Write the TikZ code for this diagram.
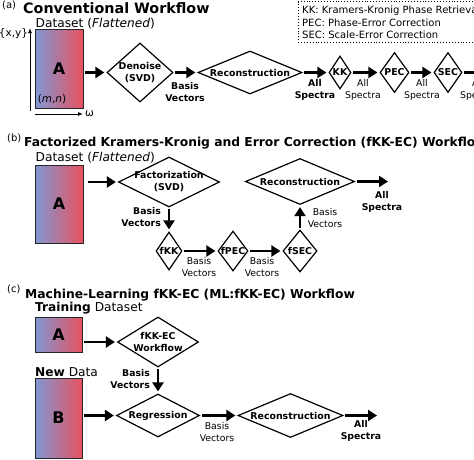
\documentclass[tikz,border=0pt]{standalone}
\usepackage{fontspec}
\setmainfont{DejaVu Sans}
\usepackage{tikz}
\usetikzlibrary{shapes.geometric}
\usetikzlibrary{arrows.meta}

\definecolor{dsblue}{RGB}{128,152,212}
\definecolor{dsred}{RGB}{232,82,94}

\tikzset{
  flow/.style={line width=2.6pt,-{Triangle[length=9pt,width=11pt]},shorten <=1.5pt,shorten >=2pt},
  axis/.style={line width=0.9pt,-{Latex[length=5pt,width=4pt]}},
  stepdia/.style={diamond,draw,line width=1.2pt,inner sep=0pt},
  steptext/.style={font=\bfseries\fontsize{9.4}{12}\selectfont,align=center,inner sep=0pt},
  databox/.style={draw=black!85,line width=0.9pt,left color=dsblue,right color=dsred,inner sep=0pt,font=\bfseries\fontsize{16}{18}\selectfont},
  lbl/.style={font=\fontsize{9.3}{12}\selectfont,align=center,inner sep=0pt},
  blbl/.style={lbl,font=\bfseries\fontsize{9.3}{12}\selectfont},
  ttl/.style={anchor=base west,inner sep=0pt,font=\bfseries\fontsize{12.3}{14}\selectfont},
  tag/.style={anchor=base west,inner sep=0pt,font=\fontsize{10}{11}\selectfont},
  dtxt/.style={anchor=base west,inner sep=0pt,font=\fontsize{12.2}{14}\selectfont},
  legtxt/.style={anchor=base west,inner sep=0pt,font=\fontsize{10}{12}\selectfont}
}

\begin{document}
\begin{tikzpicture}[x=1pt,y=-1pt]
\useasboundingbox (0,0) rectangle (474,459);
\clip (0,0) rectangle (474,459);

% (a) conventional workflow
\node[tag] (tagA) at (2,8) {(a)};
\node[ttl,font=\bfseries\fontsize{14.3}{16}\selectfont] (ttlA) at (23,13.5) {Conventional Workflow};
\node[dtxt] (dsetA) at (35.5,27.5) {Dataset (\textit{Flattened})};
\node[databox,minimum width=48pt,minimum height=79pt] (dsA) at (59,68.5) {A};
\node[lbl,font=\fontsize{10.5}{12}\selectfont] (mnA) at (52,99) {(\textit{m},\textit{n})};
\coordinate (yb) at (30,111);
\coordinate (yt) at (30,28);
\coordinate (xl) at (35,114);
\coordinate (xr) at (83,114);
\draw[axis] (yb) -- (yt);
\draw[axis] (xl) -- (xr);
\node[lbl,font=\fontsize{10.5}{12}\selectfont] (xyA) at (13.5,34) {\{x,y\}};
\node[lbl,anchor=west,font=\fontsize{10.5}{12}\selectfont] (omA) at (85,114) {ω};

\node[stepdia,minimum width=66pt,minimum height=59pt,label={[steptext]center:Denoise\\(SVD)}] (den) at (140,72.5) {};
\node[stepdia,minimum width=104pt,minimum height=43pt,label={[steptext]center:Reconstruction}] (recA) at (250,72.5) {};
\node[stepdia,minimum width=22pt,minimum height=33pt,label={[steptext]center:KK}] (kk) at (340,72.5) {};
\node[stepdia,minimum width=29pt,minimum height=40pt,label={[steptext]center:PEC}] (pec) at (394.5,72.5) {};
\node[stepdia,minimum width=28pt,minimum height=40pt,label={[steptext]center:SEC}] (sec) at (448,72.5) {};
\coordinate (outA) at (495,72.5);

\draw[flow] (dsA.east |- den.west) -- (den.west);
\draw[flow] (den.east) -- (recA.west);
\draw[flow] (recA.east) -- (kk.west);
\draw[flow] (kk.east) -- (pec.west);
\draw[flow] (pec.east) -- (sec.west);
\draw[flow] (sec.east) -- (outA);

\node[blbl] (bvA) at (185,92) {Basis\\Vectors};
\node[blbl] (asA) at (315,90) {All\\Spectra};
\node[lbl] (asA1) at (363,90) {All\\Spectra};
\node[lbl] (asA2) at (422,90) {All\\Spectra};
\node[lbl] (asA3) at (478,90) {All\\Spectra};

% legend
\draw[dotted,line width=0.9pt] (298,1.5) rectangle (500,42);
\node[legtxt] (leg1) at (302,13.5) {KK: Kramers-Kronig Phase Retrieval};
\node[legtxt] (leg2) at (302,26) {PEC: Phase-Error Correction};
\node[legtxt] (leg3) at (302,38) {SEC: Scale-Error Correction};

% (b) fKK-EC workflow
\node[tag] (tagB) at (7,141) {(b)};
\node[ttl] (ttlB) at (24,146) {Factorized Kramers-Kronig and Error Correction (fKK-EC) Workflow};
\node[dtxt] (dsetB) at (35.5,161) {Dataset (\textit{Flattened})};
\node[databox,minimum width=48pt,minimum height=78pt] (dsB) at (59,204) {A};

\node[stepdia,minimum width=101pt,minimum height=50pt,label={[steptext]center:Factorization\\(SVD)}] (fact) at (169,182) {};
\node[stepdia,minimum width=26pt,minimum height=38pt,label={[steptext]center:fKK}] (fkk) at (169,251) {};
\node[stepdia,minimum width=30pt,minimum height=40pt,label={[steptext]center:fPEC}] (fpec) at (233,251) {};
\node[stepdia,minimum width=34pt,minimum height=42pt,label={[steptext]center:fSEC}] (fsec) at (300,251) {};
\node[stepdia,minimum width=109pt,minimum height=46pt,label={[steptext]center:Reconstruction}] (recB) at (300,181.5) {};
\coordinate (outB) at (390,181.5);

\draw[flow,shorten <=5pt] (dsB.east |- fact.west) -- (fact.west);
\draw[flow] (fact.south) -- (fkk.north);
\draw[flow] (fkk.east) -- (fpec.west);
\draw[flow] (fpec.east) -- (fsec.west);
\draw[flow] (fsec.north) -- (recB.south);
\draw[flow] (recB.east) -- (outB);

\node[blbl,anchor=east,align=right] (bvB1) at (161,217.5) {Basis\\Vectors};
\node[lbl] (bvB2) at (199,267.5) {Basis\\Vectors};
\node[lbl] (bvB3) at (262,267.5) {Basis\\Vectors};
\node[lbl] (bvB4) at (325,218.5) {Basis\\Vectors};
\node[blbl] (asB) at (382,202) {All\\Spectra};

% (c) ML:fKK-EC workflow
\node[tag] (tagC) at (7,292) {(c)};
\node[ttl] (ttlC) at (25,298.5) {Machine-Learning fKK-EC (ML:fKK-EC) Workflow};
\node[dtxt] (dsetC) at (35,311.5) {\textbf{Training} Dataset};
\node[databox,minimum width=47pt,minimum height=35pt] (dsC) at (58.5,334.5) {A};
\node[dtxt] (newC) at (35,376.5) {\textbf{New} Data};
\node[databox,minimum width=47pt,minimum height=80pt] (dsD) at (58.5,418) {B};

\node[stepdia,minimum width=81pt,minimum height=50pt,label={[steptext]center:fKK-EC\\Workflow}] (wfC) at (158,342) {};
\node[stepdia,minimum width=83pt,minimum height=43pt,label={[steptext]center:Regression}] (regC) at (158,415.5) {};
\node[stepdia,minimum width=105pt,minimum height=44pt,label={[steptext]center:Reconstruction}] (recC) at (290.5,415.5) {};
\coordinate (outC) at (379,415.5);

\draw[flow] (dsC.east |- wfC.west) -- (wfC.west);
\draw[flow] (wfC.south) -- (regC.north);
\draw[flow] (dsD.east |- regC.west) -- (regC.west);
\draw[flow] (regC.east) -- (recC.west);
\draw[flow] (recC.east) -- (outC);

\node[blbl,anchor=east,align=right] (bvC1) at (150,379) {Basis\\Vectors};
\node[lbl] (bvC2) at (217,432.5) {Basis\\Vectors};
\node[blbl] (asC) at (361,431) {All\\Spectra};
\end{tikzpicture}
\end{document}
